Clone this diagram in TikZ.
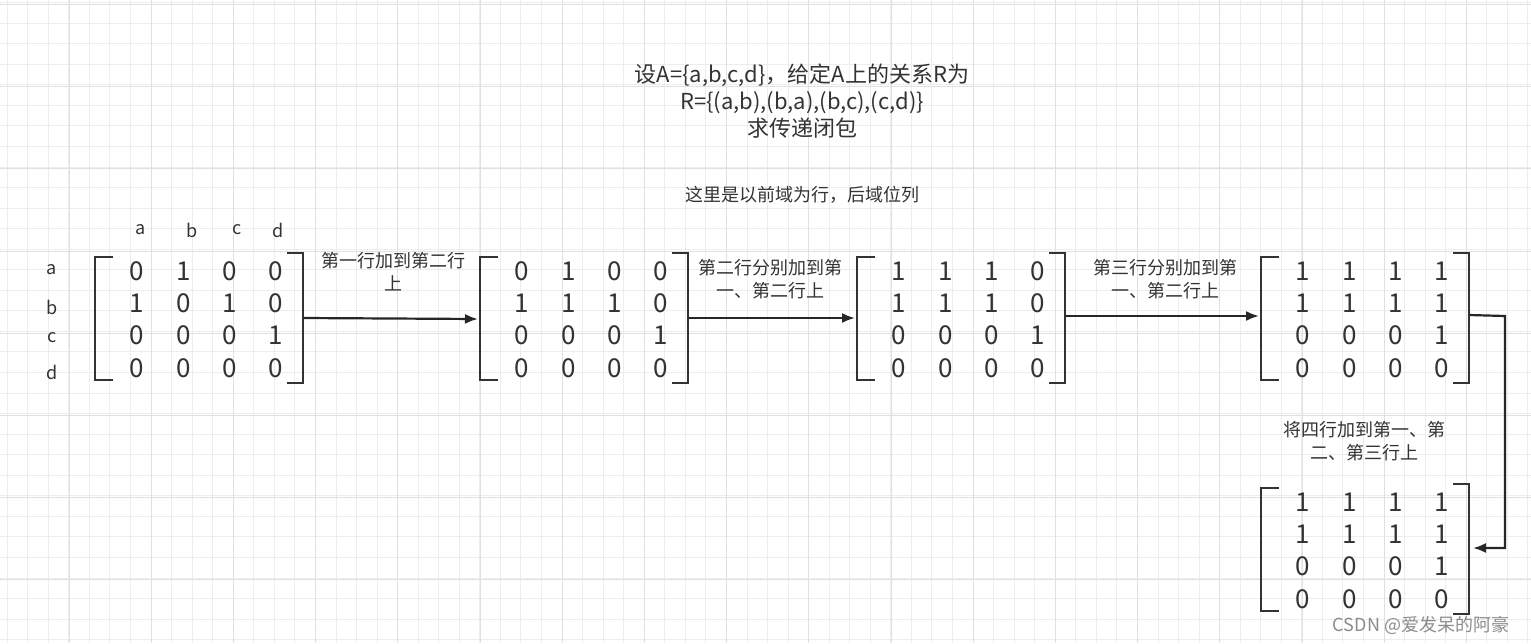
\documentclass[tikz,border=0pt]{standalone}
\usepackage{fontspec}
\setmainfont{Noto Sans CJK SC}
\usetikzlibrary{arrows.meta}
\begin{document}
\begin{tikzpicture}[x=1pt,y=-1pt,
  ent/.style={font=\fontsize{26}{26}\selectfont, text=black!80, inner sep=0pt},
  lab/.style={font=\fontsize{18}{23}\selectfont, text=black!80, align=center, inner sep=0pt},
  brk/.style={line width=2.6pt, draw=black!80},
  arr/.style={line width=2.2pt, draw=black!85, -{Latex[length=13pt,width=10pt]}}]
\useasboundingbox (0,0) rectangle (1531,643);
\fill[white] (0,0) rectangle (1531,643);
\foreach \i in {-3,...,75} {\draw[black!7, line width=0.6pt] (\i*20.55+7,0) -- (\i*20.55+7,643);}
\foreach \i in {-12,...,31} {\draw[black!7, line width=0.6pt] (0,\i*20.55+2.4) -- (1531,\i*20.55+2.4);}
\foreach \i in {-1,...,18} {\draw[black!12, line width=0.8pt] (\i*82.2+69,0) -- (\i*82.2+69,643);}
\foreach \i in {-3,...,8} {\draw[black!12, line width=0.8pt] (0,\i*82.2+251) -- (1531,\i*82.2+251);}
% title
\node[lab, font=\fontsize{22}{27}\selectfont] (title) at (802,101) {设A=\{a,b,c,d\}，给定A上的关系R为\\R=\{(a,b),(b,a),(b,c),(c,d)\}\\求传递闭包};
\node[lab, font=\fontsize{18}{20}\selectfont] (sub) at (802,195) {这里是以前域为行，后域位列};
% col/row labels
\foreach \t/\x in {a/141,b/192,c/237,d/278} \node[lab] (c\t) at (\x,230) {\t};
\foreach \t/\y in {a/270,b/307,c/338,d/372} \node[lab] (r\t) at (52,\y) {\t};
% matrix macro
\newcommand\mymat[9]{%
  \draw[brk] (#1+18,#2) -- (#1,#2) -- (#1,#2+123) -- (#1+18,#2+123);
  \draw[brk] (#1+192,#2-4) -- (#1+208,#2-4) -- (#1+208,#2+126) -- (#1+192,#2+126);
  \foreach \r [count=\ri from 0] in {#6,#7,#8,#9}{
    \foreach \v [count=\ci from 0] in \r
      \node[ent] (#3-\ri-\ci) at (#1+42+\ci*46.3,#2+14+\ri*32.3) {\v};}
  \coordinate (#3-L) at (#1-2,#4);
  \coordinate (#3-R) at (#1+208,#5);
}
\mymat{95}{257}{m1}{318}{318}{{0,1,0,0}}{{1,0,1,0}}{{0,0,0,1}}{{0,0,0,0}}
\mymat{480}{257}{m2}{319}{318}{{0,1,0,0}}{{1,1,1,0}}{{0,0,0,1}}{{0,0,0,0}}
\mymat{857}{257}{m3}{318}{316}{{1,1,1,0}}{{1,1,1,0}}{{0,0,0,1}}{{0,0,0,0}}
\mymat{1261}{257}{m4}{316}{315}{{1,1,1,1}}{{1,1,1,1}}{{0,0,0,1}}{{0,0,0,0}}
\mymat{1261}{488}{m5}{548}{548}{{1,1,1,1}}{{1,1,1,1}}{{0,0,0,1}}{{0,0,0,0}}
\draw[arr] (m1-R) -- (m2-L);
\draw[arr] (m2-R) -- (m3-L);
\draw[arr] (m3-R) -- (m4-L);
\draw[arr] (m4-R) -- (1505,316) -- (1505,548) -- ([xshift=4pt]m5-R);
\node[lab] (t1) at (393,272) {第一行加到第二行\\上};
\node[lab] (t2) at (770,279) {第二行分别加到第\\一、第二行上};
\node[lab] (t3) at (1165,279) {第三行分别加到第\\一、第二行上};
\node[lab] (t4) at (1364,441) {将四行加到第一、第\\二、第三行上};
\node[lab, font=\fontsize{18}{20}\selectfont, text=black!45] (wm) at (1421,625) {CSDN @爱发呆的阿豪};
\end{tikzpicture}
\end{document}
